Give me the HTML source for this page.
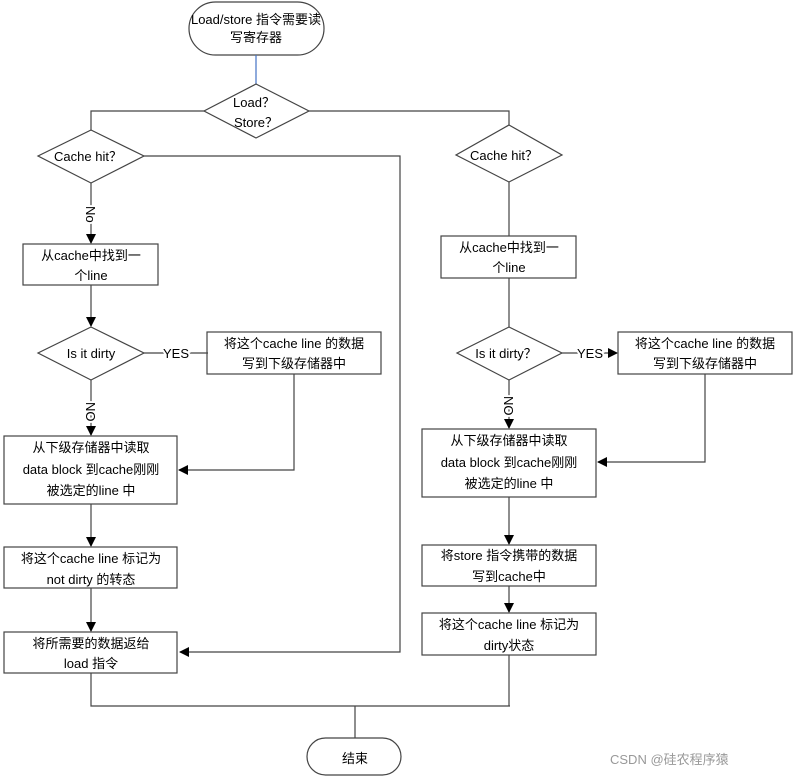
<!DOCTYPE html>
<html><head><meta charset="utf-8"><style>
html,body{margin:0;padding:0;background:#fff;}
svg{display:block;}
text{font-family:"Liberation Sans","Noto Sans CJK SC",sans-serif;font-size:13px;fill:#000;}
</style></head><body>
<svg width="796" height="777" viewBox="0 0 796 777" xmlns="http://www.w3.org/2000/svg">
<defs>
<marker id="a" markerWidth="10" markerHeight="10" refX="9" refY="5" orient="auto" markerUnits="userSpaceOnUse">
<path d="M0,0 L10,5 L0,10 z" fill="#000"/></marker>
</defs>
<g fill="none" stroke="#444" stroke-width="1.2">
<!-- start -->
<rect x="189" y="2" width="135" height="53" rx="26.5" fill="#fff"/>
<line x1="256" y1="55" x2="256" y2="84" stroke="#4472c4"/>
<polygon points="256,84 309,111 256,138 204,111" fill="#fff"/>
<polyline points="204,111 91,111 91,130"/>
<polyline points="309,111 509,111 509,125"/>
<!-- left -->
<polygon points="91,130 144,156 91,183 38,156" fill="#fff"/>
<polyline points="144,156 400,156 400,652 180,652" marker-end="url(#a)"/>
<line x1="91" y1="183" x2="91" y2="243" marker-end="url(#a)"/>
<rect x="23" y="244" width="135" height="41"/>
<line x1="91" y1="285" x2="91" y2="326" marker-end="url(#a)"/>
<polygon points="91,327 144,353 91,380 38,353" fill="#fff"/>
<line x1="144" y1="353" x2="208" y2="353"/>
<rect x="207" y="332" width="174" height="42"/>
<polyline points="294,374 294,470 179,470" marker-end="url(#a)"/>
<line x1="91" y1="380" x2="91" y2="435" marker-end="url(#a)"/>
<rect x="4" y="436" width="173" height="68"/>
<line x1="91" y1="504" x2="91" y2="546" marker-end="url(#a)"/>
<rect x="4" y="547" width="173" height="41"/>
<line x1="91" y1="588" x2="91" y2="631" marker-end="url(#a)"/>
<rect x="4" y="632" width="173" height="41"/>
<polyline points="91,673 91,706 510,706"/>
<line x1="355" y1="706" x2="355" y2="738"/>
<rect x="307" y="738" width="94" height="37" rx="18.5" fill="#fff"/>
<!-- right -->
<polygon points="509,125 562,155 509,182 456,155" fill="#fff"/>
<line x1="509" y1="182" x2="509" y2="236"/>
<rect x="441" y="236" width="135" height="42"/>
<line x1="509" y1="278" x2="509" y2="327"/>
<polygon points="509,327 562,353 509,380 457,353" fill="#fff"/>
<line x1="562" y1="353" x2="617" y2="353" marker-end="url(#a)"/>
<rect x="618" y="332" width="174" height="42"/>
<polyline points="705,374 705,462 598,462" marker-end="url(#a)"/>
<line x1="509" y1="380" x2="509" y2="428" marker-end="url(#a)"/>
<rect x="422" y="429" width="174" height="68"/>
<line x1="509" y1="497" x2="509" y2="544" marker-end="url(#a)"/>
<rect x="422" y="545" width="174" height="41"/>
<line x1="509" y1="586" x2="509" y2="612" marker-end="url(#a)"/>
<rect x="422" y="613" width="174" height="42"/>
<line x1="509" y1="655" x2="509" y2="706"/>
</g>
<g text-anchor="middle">
<text x="256" y="24" font-size="12">Load/store 指令需要读</text>
<text x="256" y="42" font-size="12">写寄存器</text>
<text x="254" y="107">Load？</text>
<text x="256" y="127">Store？</text>
<text x="88" y="161">Cache hit？</text>
<text x="91" y="260">从cache中找到一</text>
<text x="91" y="280">个line</text>
<text x="91" y="358">Is it dirty</text>
<text x="176" y="358" font-size="12" style="paint-order:stroke" stroke="#fff" stroke-width="4">YES</text>
<text x="294" y="348">将这个cache line 的数据</text>
<text x="294" y="368">写到下级存储器中</text>
<text x="91" y="452">从下级存储器中读取</text>
<text x="91" y="474">data block 到cache刚刚</text>
<text x="91" y="495">被选定的line 中</text>
<text x="91" y="563">将这个cache line 标记为</text>
<text x="91" y="584">not dirty 的转态</text>
<text x="91" y="648">将所需要的数据返给</text>
<text x="91" y="668">load 指令</text>
<text x="355" y="763" font-size="17">结束</text>
<text x="504" y="160">Cache hit？</text>
<text x="509" y="252">从cache中找到一</text>
<text x="509" y="272">个line</text>
<text x="506" y="358">Is it dirty？</text>
<text x="590" y="358" font-size="12" style="paint-order:stroke" stroke="#fff" stroke-width="4">YES</text>
<text x="705" y="348">将这个cache line 的数据</text>
<text x="705" y="368">写到下级存储器中</text>
<text x="509" y="445">从下级存储器中读取</text>
<text x="509" y="467">data block 到cache刚刚</text>
<text x="509" y="488">被选定的line 中</text>
<text x="509" y="560">将store 指令携带的数据</text>
<text x="509" y="581">写到cache中</text>
<text x="509" y="629">将这个cache line 标记为</text>
<text x="509" y="650">dirty状态</text>
</g>
<g font-size="12">
<text transform="translate(86,206) rotate(90)" style="paint-order:stroke" stroke="#fff" stroke-width="4">No</text>
<text transform="translate(86,402) rotate(90)" style="paint-order:stroke" stroke="#fff" stroke-width="4">NO</text>
<text transform="translate(504,396) rotate(90)" style="paint-order:stroke" stroke="#fff" stroke-width="4">NO</text>
</g>
<text x="610" y="764" font-size="16" style="fill:#999">CSDN @硅农程序猿</text>
</svg>
</body></html>
